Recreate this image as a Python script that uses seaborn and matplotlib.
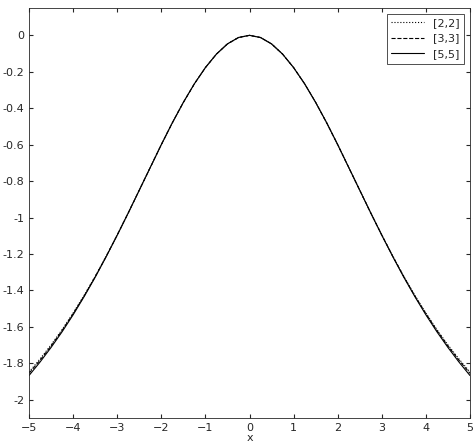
import numpy as np
import pandas as pd
import seaborn as sns
import matplotlib
matplotlib.use("Agg")
import matplotlib.pyplot as plt

x_half = [0, 0.25, 0.5, 0.75, 1, 1.25, 1.5, 1.75, 2, 2.25, 2.5, 2.75, 3, 3.25, 3.5, 3.75, 4, 4.25, 4.5, 4.75, 5]
y55_half = [0, -0.012, -0.047, -0.103, -0.177, -0.266, -0.368, -0.480, -0.600, -0.725, -0.850, -0.975, -1.097,
            -1.215, -1.328, -1.434, -1.534, -1.627, -1.713, -1.793, -1.867]
y33_half = [0, -0.012, -0.047, -0.103, -0.177, -0.266, -0.368, -0.480, -0.600, -0.725, -0.850, -0.975, -1.096,
            -1.213, -1.325, -1.430, -1.528, -1.620, -1.705, -1.783, -1.855]
y22_half = [0, -0.012, -0.047, -0.103, -0.177, -0.266, -0.368, -0.480, -0.600, -0.725, -0.850, -0.975, -1.096,
            -1.212, -1.323, -1.427, -1.524, -1.615, -1.699, -1.776, -1.848]

x = [-v for v in x_half[:0:-1]] + x_half
def mirror(h):
    return h[:0:-1] + h

rows = []
for name, h in [("[2,2]", y22_half), ("[3,3]", y33_half), ("[5,5]", y55_half)]:
    for xi, yi in zip(x, mirror(h)):
        rows.append({"x": xi, "y": yi, "s": name})
df = pd.DataFrame(rows)

sns.set_style("ticks")
plt.rcParams['font.family'] = ['DejaVu Sans']
fig = plt.figure(figsize=(4.74, 4.45), dpi=100)
ax = fig.add_axes([29/474, 27/445, 441/474, 410/445])
styles = {"[2,2]": ":", "[3,3]": "--", "[5,5]": "-"}
for name in ["[2,2]", "[3,3]", "[5,5]"]:
    sub = df[df.s == name]
    sns.lineplot(data=sub, x="x", y="y", ax=ax, color="black", lw=0.8,
                 linestyle=styles[name], label=name)
ax.set_xlim(-5, 5)
ax.set_ylim(-2.1, 0.15)
ax.set_xticks(range(-5, 6))
yt = [round(v, 1) for v in np.arange(-2, 0.01, 0.2)]
ax.set_yticks(yt)
ax.set_yticklabels(["0" if abs(v) < 1e-9 else ("%g" % v) for v in yt])
ax.set_xlabel("x", fontsize=8, labelpad=0)
ax.set_ylabel("")
ax.tick_params(labelsize=8, direction="in", length=3, top=True, right=True)
for s in ax.spines.values():
    s.set_linewidth(0.6)
leg = ax.legend(loc="upper right", fontsize=8, frameon=True, fancybox=False,
                edgecolor="black", handlelength=3)
leg.get_frame().set_linewidth(0.6)
fig.savefig("out.png", dpi=100)
